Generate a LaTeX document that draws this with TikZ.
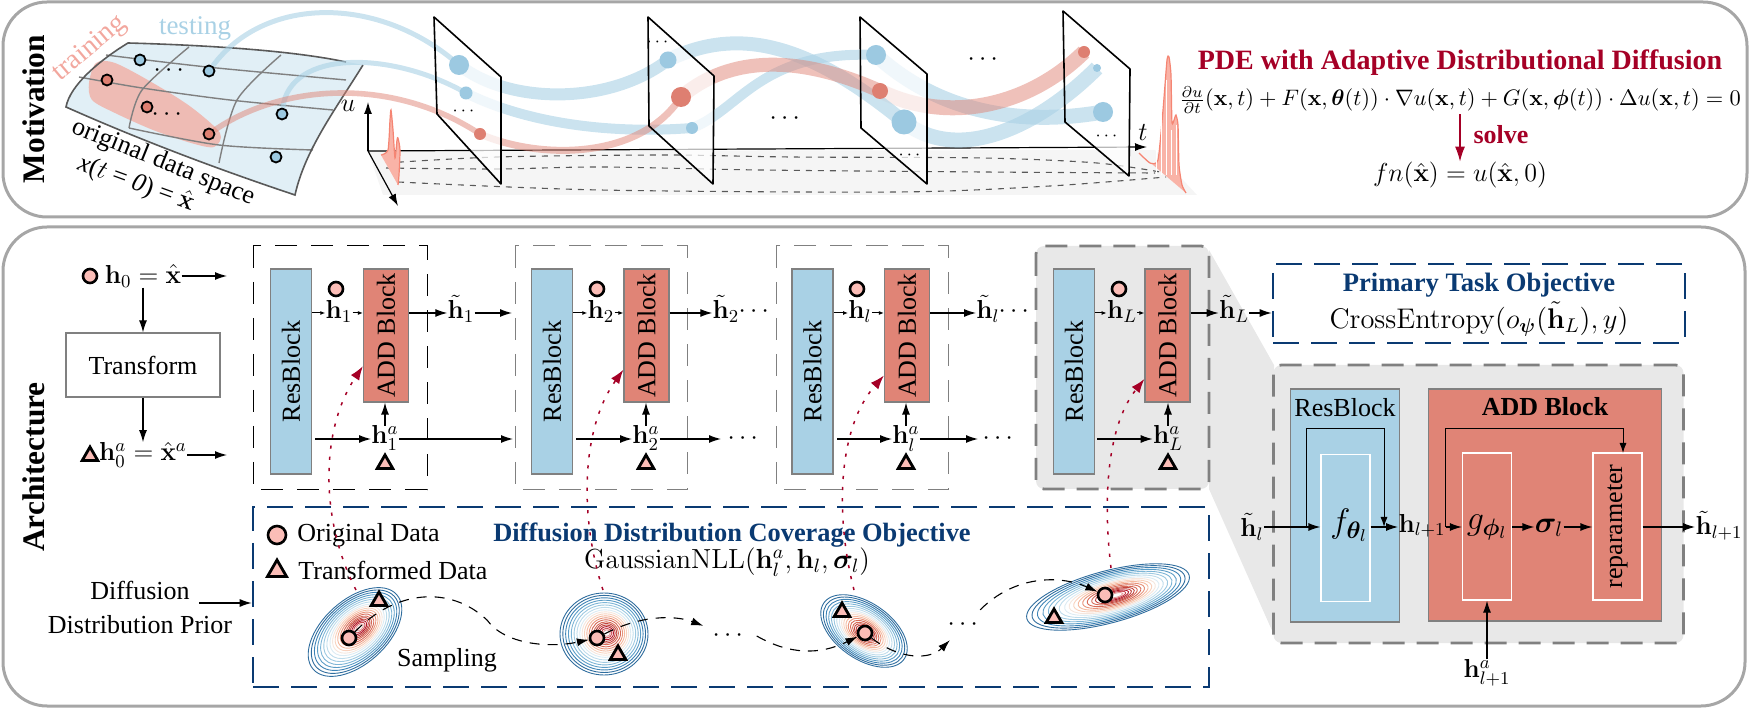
\RequirePackage{fix-cm}
\documentclass[tikz,border=0pt]{standalone}
\usepackage[no-math]{fontspec}
\setmainfont{Liberation Serif}
\usepackage{amsmath,bm}
\usetikzlibrary{arrows.meta,shapes.geometric}

\definecolor{panelgray}{HTML}{A6A6A6}
\definecolor{boxgray}{HTML}{E8E8E8}
\definecolor{blockblue}{HTML}{A9D1E5}
\definecolor{blockred}{HTML}{E08476}
\definecolor{dotblue}{HTML}{9CC9E1}
\definecolor{dotred}{HTML}{DE7F71}
\definecolor{pointpink}{HTML}{FBBDB7}
\definecolor{darkred}{HTML}{A50026}
\definecolor{navy}{HTML}{0A3A72}
\definecolor{salmonline}{HTML}{F58573}
\definecolor{salmonfill}{HTML}{F9B3A7}
\definecolor{trainred}{HTML}{F2A79E}
\definecolor{ga}{HTML}{2F6D9E}
\definecolor{gb}{HTML}{3E83B5}
\definecolor{gc}{HTML}{5A9CC6}
\definecolor{gd}{HTML}{7DB5D6}
\definecolor{ge}{HTML}{9DC9E1}
\definecolor{gf}{HTML}{BEDCEB}
\definecolor{gg}{HTML}{DCEBF3}
\definecolor{gh}{HTML}{F5E6DD}
\definecolor{gi}{HTML}{F8D2BE}
\definecolor{gj}{HTML}{F4B99F}
\definecolor{gk}{HTML}{E8937A}
\definecolor{gl}{HTML}{D66A57}
\definecolor{gm}{HTML}{C2453F}
\definecolor{gn}{HTML}{B2182B}
\definecolor{go}{HTML}{C9474F}
\definecolor{gp}{HTML}{E8A0A0}

\tikzset{
  every node/.style={font=\fontsize{13}{15}\selectfont, inner sep=0pt},
  panelbox/.style={draw=panelgray, line width=1.5pt, rounded corners=22pt},
  resnode/.style={draw=gray, fill=blockblue, line width=.6pt, minimum width=20.5pt, minimum height=102.5pt},
  addnode/.style={draw=gray, fill=blockred, line width=.6pt, minimum width=22.5pt, minimum height=66.5pt},
  stagebox/.style={line width=.5pt, dash pattern=on 11pt off 7pt},
  arr/.style={-{Latex[length=6pt,width=4pt]}, line width=.6pt},
  arrsmall/.style={-{Latex[length=2.5pt,width=2pt]}, line width=.5pt},
  origpt/.style={circle, draw=black, fill=pointpink, line width=1.3pt, minimum size=7pt},
  tripoint/.style={regular polygon, regular polygon sides=3, draw=black, fill=pointpink, line width=1.4pt, minimum size=9pt},
  navybox/.style={draw=navy, line width=1.3pt, dash pattern=on 13pt off 6pt},
  sampling/.style={-{Latex[length=6pt,width=4pt]}, line width=.55pt, dash pattern=on 5pt off 4pt},
  prior/.style={-{Latex[length=7pt,width=5pt]}, draw=darkred, line width=.75pt, dash pattern=on 1.6pt off 4pt},
  blueflow/.style={draw=blockblue, opacity=.6},
  redflow/.style={draw=blockred, opacity=.5},
  gridline/.style={draw=gray, line width=.7pt},
  floorline/.style={draw=black!65, line width=.55pt, dashed},
  surfpt/.style={circle, draw=black, line width=.9pt, minimum size=5.5pt},
  flowdot/.style={circle, minimum size=#1},
  innerbox/.style={draw=white, line width=.6pt, minimum width=24.5pt, minimum height=73.5pt},
  spikefill/.style={draw=salmonline, fill=salmonfill, line width=.6pt},
}

\newcommand{\glassplane}[4]{ % the four corners of one time slice
  \fill[white, opacity=.72] #1 -- #2 -- #3 -- #4 -- cycle;
}
\newcommand{\planeedge}[4]{
  \draw[line width=.8pt, line join=round] #1 -- #2 -- #3 -- #4 -- cycle;
}
\newcommand{\gaussblob}[7]{ % #1,#2 centre, #3,#4 half axes, #5 angle, #6,#7 shift of the peak
  \foreach \s/\c in {1/ga,.94/ga,.88/gb,.82/gc,.76/gd,.70/ge,.64/gf,.58/gg,.53/gh,.48/gi,.43/gj,.38/gk,.33/gl,.28/gl,.24/gm,.20/gm,.16/gn,.12/go,.08/gp} {
    \draw[\c, line width=.45pt] ({#1+(1-\s)*#6},{#2+(1-\s)*#7}) ellipse [x radius=\s*#3, y radius=\s*#4, rotate=#5];
  }
}
\newcommand{\stageblock}[8]{ % #1 suffix, #2 x of ResBlock, #3 x of ADD Block, #4 x of h, #5 index, #6 x of tilde h, #7 x of h^a, #8 x of circle
  \node[resnode] (res#1) at (#2,371.5) {\rotatebox{90}{ResBlock}};
  \node[addnode] (add#1) at (#3,335.5) {\rotatebox{90}{ADD Block}};
  \node[origpt] (cir#1) at (#8,289) {};
  \node[anchor=base] (h#1) at (#4,319) {$\mathbf{h}_{#5}$};
  \node[anchor=base] (ht#1) at (#6,319) {$\tilde{\mathbf{h}}_{#5}$};
  \node[anchor=base] (ha#1) at (#7,444) {$\mathbf{h}^{a}_{#5}$};
  \node[tripoint] (tri#1) at (#7,464) {};
  \draw[arrsmall] (res#1.east |- rowup) -- (h#1.west |- rowup);
  \draw[arrsmall] (h#1.east |- rowup) -- (add#1.west |- rowup);
  \draw[arr] (add#1.east |- rowup) -- (ht#1.west |- rowup);
  \draw[arr] (ha#1.north) -- (add#1.south -| ha#1);
}

\begin{document}
\begin{tikzpicture}[x=0.5pt, y=-0.5pt]
  \useasboundingbox (0,0) rectangle (1750,710);
  \coordinate (rowup) at (0,313);
  \coordinate (rowlow) at (0,439);
  \coordinate (rowin) at (0,527);

  % Motivation
  \draw[panelbox] (3,2) rectangle (1747,217);
  \node[rotate=90, font=\fontsize{15.7}{18}\selectfont\bfseries] (motiv) at (34,109) {Motivation};

  \fill[black!4] (368,151) -- (1155,150) -- (1197,195) -- (383,195) -- cycle;
  \draw[floorline] plot[smooth] coordinates {(386,163) (497,157) (665,155) (791,157) (983,158) (1097,163) (1166,173)};
  \draw[floorline] plot[smooth] coordinates {(386,168) (497,169) (600,167) (760,170) (983,172) (1155,173)};
  \draw[floorline] plot[smooth] coordinates {(398,182) (600,190) (898,192) (1050,186) (1166,177)};
  \coordinate (orig) at (368,151);
  \coordinate (uend) at (368,102);
  \coordinate (xend) at (398,206);
  \coordinate (tend) at (1147,147);
  \draw[arr] (orig) -- (uend);
  \draw[arr] (orig) -- (xend);
  \draw[arr] (orig) -- (tend);
  \node (ulab) at (348,106) {$u$};
  \node (tlab) at (1143,133) {$t$};
  \draw[spikefill] plot[smooth, tension=.4] coordinates {(381,155) (388,150) (390,120) (391,110) (393,130) (395,158) (397,140) (398,138) (400,150) (399,175) (398,185)};
  \draw[spikefill] plot[smooth, tension=.35] coordinates {(1139,153) (1150,163) (1158,160) (1163,110) (1167,60) (1169,57) (1171,75) (1172,123) (1175,117) (1176,115) (1178,125) (1179,165) (1182,185) (1186,193)};
  \foreach \x/\y in {1156/140,1161/115,1166/80,1171/130,1176/125} {
    \draw[white, line width=.35pt] (\x,\y) -- (\x,175);
  }

  \coordinate (pa1) at (459,65);  \coordinate (pb1) at (466,93);  \coordinate (pr1) at (480,134);
  \coordinate (pa2) at (668,60);  \coordinate (pb2) at (692,128); \coordinate (pr2) at (681,97);
  \coordinate (pb3) at (876,55);  \coordinate (pa3) at (904,122); \coordinate (pr3) at (880,91);
  \coordinate (pb4) at (1103,112); \coordinate (pa4) at (1097,68); \coordinate (pr4) at (1084,52);

  \glassplane{(1063,11)}{(1130,69)}{(1129,176)}{(1065,122)}
  \draw[blueflow, line width=7.5pt] (pb3) .. controls (925,100) and (1000,130) .. (pb4);
  \draw[blueflow, line width=7.5pt] (pa3) .. controls (960,165) and (1040,125) .. (pa4);
  \draw[redflow, line width=7.5pt] (pr3) .. controls (950,125) and (1030,105) .. (pr4);
  \glassplane{(860,17)}{(927,74)}{(927,184)}{(861,128)}
  \draw[blueflow, line width=7pt] (pa2) .. controls (740,25) and (810,45) .. (pa3);
  \draw[blueflow, line width=5pt] (pb2) .. controls (740,110) and (760,50) .. (pb3);
  \draw[redflow, line width=7pt] (pr2) .. controls (730,55) and (800,55) .. (pr3);
  \glassplane{(648,17)}{(714,76)}{(713,184)}{(649,126)}
  \draw[blueflow, line width=6pt] (pa1) .. controls (510,105) and (610,105) .. (pa2);
  \draw[blueflow, line width=5pt] (pb1) .. controls (520,120) and (600,135) .. (pb2);
  \draw[redflow, line width=3.5pt] (pr1) .. controls (540,160) and (640,160) .. (pr2);
  \glassplane{(434,17)}{(501,77)}{(501,184)}{(437,114)}

  % data surface
  \fill[blockblue!35] (128,43) .. controls (200,45) and (290,50) .. (363,65)
    .. controls (335,110) and (305,150) .. (295,195)
    .. controls (220,170) and (140,140) .. (66,107)
    .. controls (70,85) and (100,60) .. (128,43);
  \fill[blockred!55] plot[smooth cycle] coordinates {(89,83) (96,63) (115,63) (153,83) (191,107) (220,133) (214,147) (191,143) (153,130) (115,113) (92,100)};
  \draw[gridline] plot[smooth] coordinates {(106,55) (207,67) (346,80)};
  \draw[gridline] plot[smooth] coordinates {(79,77) (142,88) (230,100) (333,110)};
  \draw[gridline] plot[smooth] coordinates {(129,128) (219,145) (313,150)};
  \draw[gridline] plot[smooth] coordinates {(189,47) (142,90) (129,128)};
  \draw[gridline] plot[smooth] coordinates {(281,55) (237,100) (219,163)};
  \draw[draw=black!65, line width=.8pt] (363,65) .. controls (335,110) and (305,150) .. (295,195)
    .. controls (220,170) and (140,140) .. (66,107)
    .. controls (70,85) and (100,60) .. (128,43) .. controls (200,45) and (290,50) .. (346,62);

  \node[surfpt, fill=dotred] (sr1) at (107,80) {};
  \node[surfpt, fill=dotred] (sr2) at (147,107) {};
  \node[surfpt, fill=dotred] (sr3) at (209,134) {};
  \node[surfpt, fill=dotblue] (sb1) at (140,60) {};
  \node[surfpt, fill=dotblue] (sb2) at (209,71) {};
  \node[surfpt, fill=dotblue] (sb3) at (282,114) {};
  \node[surfpt, fill=dotblue] (sb4) at (276,157) {};
  \node (sdots1) at (171,71) {$\cdots$};
  \node (sdots2) at (169,115) {$\cdots$};

  \draw[blueflow, line width=2.5pt] (sb2) .. controls (265,-5) and (380,-5) .. (pa1);
  \draw[blueflow, line width=2.5pt] (sb3) .. controls (290,50) and (390,50) .. (pb1);
  \draw[redflow, line width=2.8pt] (sr3) .. controls (280,85) and (390,75) .. (pr1);

  \node[text=trainred, rotate=40, font=\fontsize{14}{16}\selectfont] (trainlab) at (90,49) {training};
  \node[text=blockblue, font=\fontsize{13.5}{16}\selectfont] (testlab) at (195,28) {testing};
  \node[rotate=-22] (spacelab) at (163,163) {original data space};
  \node[rotate=-20] (xlab) at (136,184) {\textit{x}($t$ = \textit{0}) = $\hat{\mathbf{x}}$};

  \node[flowdot=10pt, fill=dotblue] (da1) at (pa1) {};
  \node[flowdot=6.5pt, fill=dotblue] (db1) at (pb1) {};
  \node[flowdot=6pt, fill=dotred] (dr1) at (pr1) {};
  \node[flowdot=8.5pt, fill=dotblue] (da2) at (pa2) {};
  \node[flowdot=6pt, fill=dotblue] (db2) at (pb2) {};
  \node[flowdot=10pt, fill=dotred] (dr2) at (pr2) {};
  \node[flowdot=10pt, fill=dotblue] (db3) at (pb3) {};
  \node[flowdot=12.5pt, fill=dotblue] (da3) at (pa3) {};
  \node[flowdot=8pt, fill=dotred] (dr3) at (pr3) {};
  \node[flowdot=10pt, fill=dotblue] (db4) at (pb4) {};
  \node[flowdot=4pt, fill=dotblue] (da4) at (pa4) {};
  \node[flowdot=6pt, fill=dotred] (dr4) at (pr4) {};
  \planeedge{(434,17)}{(501,77)}{(501,184)}{(437,114)}
  \planeedge{(648,17)}{(714,76)}{(713,184)}{(649,126)}
  \planeedge{(860,17)}{(927,74)}{(927,184)}{(861,128)}
  \planeedge{(1063,11)}{(1130,69)}{(1129,176)}{(1065,122)}
  \node[font=\small] (pdots1) at (465,111) {$\cdots$};
  \node[font=\small] (pdots2) at (659,42) {$\cdots$};
  \node[font=\small] (pdots3) at (911,155) {$\cdots$};
  \node[font=\small] (pdots4) at (1108,136) {$\cdots$};
  \node (mdots1) at (787,119) {$\cdots$};
  \node (mdots2) at (985,60) {$\cdots$};

  \node[text=darkred, font=\fontsize{14}{16}\selectfont\bfseries] (pdetitle) at (1460,63) {PDE with Adaptive Distributional Diffusion};
  \node[font=\fontsize{11.2}{14}\selectfont] (pdeeq) at (1460,100) {$\frac{\partial u}{\partial t}(\mathbf{x},t)+F(\mathbf{x},\bm{\theta}(t))\cdot\nabla u(\mathbf{x},t)+G(\mathbf{x},\bm{\phi}(t))\cdot\Delta u(\mathbf{x},t)=0$};
  \node (fnsol) at (1460,175) {$fn(\hat{\mathbf{x}})=u(\hat{\mathbf{x}},0)$};
  \node[text=darkred, font=\fontsize{13}{15}\selectfont\bfseries] (solvelab) at (1501,135) {solve};
  \draw[-{Latex[length=7.5pt,width=5pt]}, line width=.6pt, draw=darkred, fill=darkred] (pdeeq.south -| fnsol) -- (fnsol.north);

  % Architecture
  \draw[panelbox] (3,227) rectangle (1745,706);
  \node[rotate=90, font=\fontsize{15.7}{18}\selectfont\bfseries] (archi) at (34,467) {Architecture};

  \node[origpt] (inc) at (90,276) {};
  \node (hzero) at (143,276) {$\mathbf{h}_0=\hat{\mathbf{x}}$};
  \node[draw=gray, line width=.6pt, minimum width=77pt, minimum height=32pt] (trans) at (143,365) {Transform};
  \node[tripoint] (intri) at (90,456) {};
  \node (hazero) at (143,455) {$\mathbf{h}^{a}_0=\hat{\mathbf{x}}^{a}$};
  \coordinate (inup) at (227,276);
  \coordinate (inlow) at (227,455);
  \draw[arr] (hzero) -- (inup);
  \draw[arr] (hazero) -- (inlow);
  \draw[arr] (hzero) -- (trans);
  \draw[arr] (trans) -- (hazero);

  \fill[boxgray] (1209,250) -- (1274,365) -- (1274,635) -- (1209,489) -- cycle;
  \draw[stagebox] (253,246) rectangle (427,490);
  \draw[stagebox, draw=gray] (515,246) rectangle (687,490);
  \draw[stagebox, draw=gray] (776,246) rectangle (948,490);
  \draw[draw=gray, fill=boxgray, line width=1.4pt, dash pattern=on 11pt off 6pt, rounded corners=4pt] (1036,246) rectangle (1209,489);

  \stageblock{one}{291}{386}{339}{1}{461}{385}{336}
  \stageblock{two}{552}{646.5}{601}{2}{726}{646}{597}
  \stageblock{ell}{812.5}{907}{860}{l}{988}{906}{857}
  \stageblock{last}{1074}{1167.5}{1122}{L}{1234}{1168}{1119}

  \coordinate (nextone) at (512,313);
  \draw[arr] (htone.east |- rowup) -- (nextone);
  \node (updots) at (756,312) {$\cdots$};
  \node (updotsb) at (1016,312) {$\cdots$};
  \node (lowdots) at (745,439) {$\cdots$};
  \node (lowdotsb) at (1000,439) {$\cdots$};

  \draw[arr] (315,439) -- (haone.west |- rowlow);
  \coordinate (lownext) at (513,439);
  \draw[arr] (haone.east |- rowlow) -- (lownext);
  \draw[arr] (576,439) -- (hatwo.west |- rowlow);
  \coordinate (lowtwo) at (721,439);
  \draw[arr] (hatwo.east |- rowlow) -- (lowtwo);
  \draw[arr] (837,439) -- (haell.west |- rowlow);
  \coordinate (lowell) at (978,439);
  \draw[arr] (haell.east |- rowlow) -- (lowell);
  \draw[arr] (1097,439) -- (halast.west |- rowlow);

  \node[navybox, minimum width=206pt, minimum height=39.5pt] (primary) at (1479,303.5) {};
  \node[text=navy, font=\fontsize{13.3}{15}\selectfont\bfseries] (primtitle) at (1479,285) {Primary Task Objective};
  \node[font=\fontsize{14.2}{16}\selectfont] (primeq) at (1479,319) {$\mathrm{CrossEntropy}(o_{\bm{\psi}}(\tilde{\mathbf{h}}_{L}),y)$};
  \draw[arr] (htlast.east |- rowup) -- (primary.west |- rowup);

  % detail of the last stage
  \node[draw=gray, fill=boxgray, line width=1.4pt, dash pattern=on 11pt off 6pt, rounded corners=4pt, minimum width=205pt, minimum height=139pt] (detail) at (1478.5,504) {};
  \node[draw=gray, fill=blockblue, line width=.6pt, minimum width=54.5pt, minimum height=116.5pt] (bigres) at (1345,505.5) {};
  \node[draw=gray, fill=blockred, line width=.6pt, minimum width=116.5pt, minimum height=116pt] (bigadd) at (1545,505) {};
  \node (resname) at (1345,408) {ResBlock};
  \node[font=\fontsize{13}{15}\selectfont\bfseries] (addname) at (1545,407) {ADD Block};
  \node[innerbox] (fbox) at (1345.5,528) {};
  \node[innerbox] (gbox) at (1487,526.5) {};
  \node[innerbox] (repbox) at (1617.5,526.5) {\rotatebox{90}{reparameter}};
  \node[anchor=base, font=\fontsize{17}{19}\selectfont] (flab) at (1349,533) {$f_{\bm{\theta}_l}$};
  \node[anchor=base, font=\fontsize{17}{19}\selectfont] (glab) at (1487,530) {$g_{\bm{\phi}_l}$};
  \node[anchor=base, font=\fontsize{15}{17}\selectfont] (siglab) at (1549,532) {$\bm{\sigma}_l$};
  \node[anchor=base] (htin) at (1252,537) {$\tilde{\mathbf{h}}_l$};
  \node[anchor=base] (hnext) at (1422,532) {$\mathbf{h}_{l+1}$};
  \node[anchor=base] (htout) at (1719,535) {$\tilde{\mathbf{h}}_{l+1}$};
  \node (hanext) at (1487,673) {$\mathbf{h}^{a}_{l+1}$};
  \coordinate (loopa) at (1306,527);
  \coordinate (loopb) at (1384,527);
  \coordinate (loopc) at (1445,527);
  \coordinate (loopd) at (1623,453);
  \coordinate (toptwo) at (1306,429);
  \draw[arr] (htin.east |- rowin) -- (fbox.west |- rowin);
  \draw[line width=.5pt, -{Latex[length=5pt,width=3.5pt]}] (loopa) -- (toptwo) -- (toptwo -| loopb) -- (loopb);
  \draw[arr] (fbox.east |- rowin) -- (hnext.west |- rowin);
  \draw[arr] (hnext.east |- rowin) -- (gbox.west |- rowin);
  \draw[line width=.5pt, -{Latex[length=5pt,width=3.5pt]}] (loopc) -- (toptwo -| loopc) -- (toptwo -| loopd) -- (loopd);
  \draw[arr] (gbox.east |- rowin) -- (siglab.west |- rowin);
  \draw[arr] (siglab.east |- rowin) -- (repbox.west |- rowin);
  \draw[arr] (repbox.east |- rowin) -- (htout.west |- rowin);
  \draw[arr] (hanext.north) -- (gbox.south);

  % coverage objective
  \node[navybox, minimum width=478pt, minimum height=90pt] (cover) at (731,597) {};
  \node[origpt, minimum size=9pt] (legorig) at (277,535) {};
  \node[anchor=west] (legorigt) at (297,535) {Original Data};
  \node[tripoint, minimum size=11pt] (legtri) at (277,571) {};
  \node[anchor=west] (legtrit) at (298,570) {Transformed Data};
  \node[text=navy, font=\fontsize{13.2}{15}\selectfont\bfseries] (covtitle) at (732,535) {Diffusion Distribution Coverage Objective};
  \node[font=\fontsize{13.8}{16}\selectfont] (coveq) at (727,562) {$\mathrm{GaussianNLL}(\mathbf{h}^{a}_{l},\mathbf{h}_{l},\bm{\sigma}_{l})$};
  \node[align=center] (priorlab) at (140,607) {Diffusion\\[2pt]Distribution Prior};
  \coordinate (priorout) at (199,603);
  \draw[arr] (priorout) -- (cover.west |- priorout);

  \gaussblob{355}{632}{56}{32}{42}{5}{-5}
  \gaussblob{604}{634}{44}{41}{0}{3}{-1}
  \gaussblob{864}{631}{49}{28}{-35}{1}{2}
  \gaussblob{1108}{597}{84}{26}{15}{9}{-2}

  \node[origpt] (oone) at (349,638) {};
  \node[tripoint] (tone) at (379,601) {};
  \node[origpt] (otwo) at (597,638) {};
  \node[tripoint] (ttwo) at (618,655) {};
  \node[origpt] (oell) at (865,633) {};
  \node[tripoint] (tell) at (842,612) {};
  \node[origpt] (olast) at (1105,595) {};
  \node[tripoint] (tlast) at (1054,618) {};
  \node (samplab) at (447,660) {Sampling};
  \node[inner sep=4.5pt] (gdots1) at (730,636) {$\cdots$};
  \node[inner sep=4.5pt] (gdots2) at (965,625) {$\cdots$};

  \draw[sampling] (oone) .. controls (395,590) and (450,585) .. (487,620) .. controls (505,645) and (550,648) .. (otwo);
  \draw[sampling] (otwo) .. controls (640,615) and (675,615) .. (gdots1);
  \draw[sampling] (gdots1.east) .. controls (790,655) and (820,655) .. (oell);
  \draw[sampling] (oell) .. controls (900,660) and (930,660) .. (gdots2);
  \draw[sampling] (gdots2) .. controls (1015,575) and (1060,575) .. (olast);

  \coordinate (topone) at (356,590);
  \coordinate (toptwob) at (603,590);
  \coordinate (topell) at (854,590);
  \coordinate (toplast) at (1111,568);
  \draw[prior] (topone) .. controls (320,520) and (320,430) .. (addone.233);
  \draw[prior] (toptwob) .. controls (580,520) and (580,430) .. (addtwo.236);
  \draw[prior] (topell) .. controls (836,520) and (836,430) .. (addell.240);
  \draw[prior] (toplast) .. controls (1104,510) and (1104,430) .. (addlast.242);
\end{tikzpicture}
\end{document}
